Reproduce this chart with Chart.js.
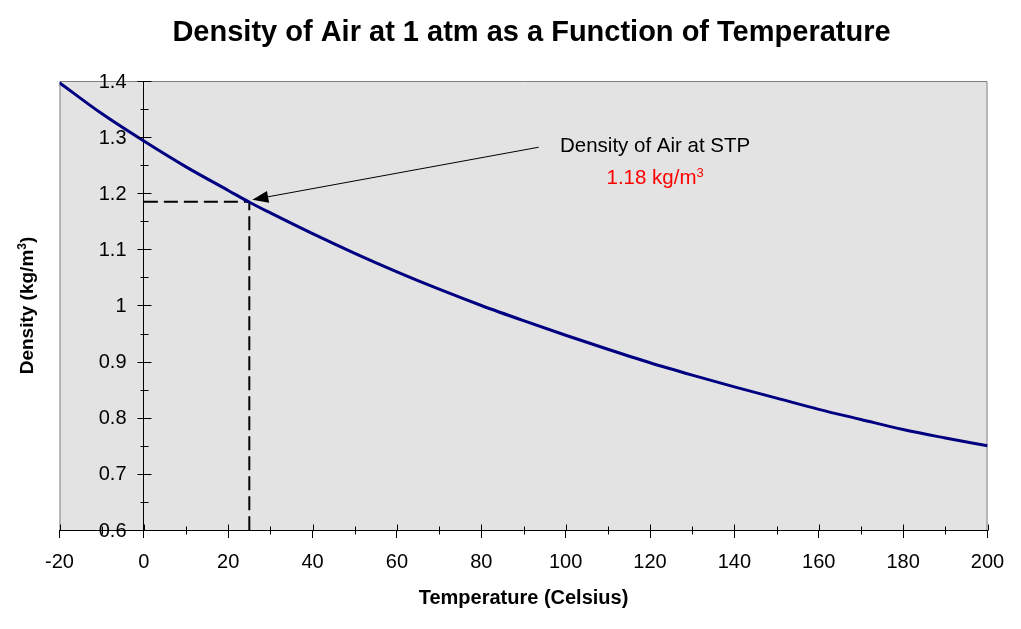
<!DOCTYPE html>
<html>
<head>
<meta charset="utf-8">
<title>Density of Air at 1 atm as a Function of Temperature</title>
<script src="https://cdn.jsdelivr.net/npm/chart.js@4.4.1/dist/chart.umd.min.js"></script>
<style>
  html, body { margin: 0; padding: 0; background: #fff; }
  #wrap { width: 1021px; height: 629px; }
</style>
</head>
<body>
<div id="wrap"><canvas id="chart" width="1021" height="629"></canvas></div>
<script>
// values
const temperatures = [-20, -10, 0, 10, 20, 25, 30, 40, 50, 60, 70, 80, 90, 100,
                      110, 120, 130, 140, 150, 160, 170, 180, 190, 200];
const densities = [1.397, 1.342, 1.293, 1.247, 1.205, 1.184, 1.165, 1.128, 1.093, 1.060,
                   1.029, 1.000, 0.973, 0.947, 0.922, 0.898, 0.876, 0.855, 0.835, 0.815,
                   0.797, 0.779, 0.764, 0.750];

// axis ranges
const xRange = [-20, 200, 20];
const yRange = [0.6, 1.4, 0.1];

// the STP point and its note
const stpTemp = 25;
const stpDensity = 1.185;
const arrowFrom = [93.6, 1.282];
const noteAt = [121.2, 1.273];
const noteLines = ['Density of Air at STP', '1.18 kg/m', '3'];

const chartTitle = 'Density of Air at 1 atm as a Function of Temperature';
const xTitle = 'Temperature (Celsius)';
const yTitle = ['Density (kg/m', '3', ')'];

const FONT = '"Liberation Sans", Arial, Helvetica, sans-serif';
const plotGrey = '#e3e3e3';

const yLabel = v => String(Math.round(v * 10) / 10);

// text with a small raised part, centred on cx
function textWithSup(ctx, parts, cx, y, size, supSize, bold) {
  const w = bold ? 'bold ' : '';
  ctx.font = w + size + 'px ' + FONT;
  const w1 = ctx.measureText(parts[0]).width;
  const w3 = parts[2] ? ctx.measureText(parts[2]).width : 0;
  ctx.font = w + supSize + 'px ' + FONT;
  const w2 = ctx.measureText(parts[1]).width;
  let x = cx - (w1 + w2 + w3) / 2;
  ctx.textAlign = 'left';
  ctx.textBaseline = 'alphabetic';
  ctx.font = w + size + 'px ' + FONT;
  ctx.fillText(parts[0], x, y);
  x += w1;
  ctx.font = w + supSize + 'px ' + FONT;
  ctx.fillText(parts[1], x, y - size * 0.36);
  x += w2;
  if (parts[2]) {
    ctx.font = w + size + 'px ' + FONT;
    ctx.fillText(parts[2], x, y);
  }
}

const excelLook = {
  id: 'excelLook',
  beforeDraw(chart) {
    const {ctx, chartArea: a} = chart;
    ctx.save();
    ctx.fillStyle = plotGrey;
    ctx.fillRect(a.left, a.top, a.right - a.left, a.bottom - a.top);
    ctx.strokeStyle = '#808080';
    ctx.lineWidth = 1;
    ctx.beginPath();
    ctx.moveTo(a.left + 0.5, a.bottom);
    ctx.lineTo(a.left + 0.5, a.top + 0.5);
    ctx.lineTo(a.right - 0.5, a.top + 0.5);
    ctx.lineTo(a.right - 0.5, a.bottom);
    ctx.stroke();
    ctx.restore();
  },
  afterDraw(chart) {
    const {ctx, chartArea: a} = chart;
    const xs = chart.scales.x;
    const ys = chart.scales.y;
    const x0 = Math.round(xs.getPixelForValue(0)) + 0.5;
    const yb = Math.round(ys.getPixelForValue(yRange[0])) + 0.5;

    ctx.save();
    ctx.strokeStyle = '#000';
    ctx.lineWidth = 1;
    ctx.beginPath();
    // y axis: major and minor ticks crossing the axis
    ys.ticks.forEach((t, i) => {
      const py = Math.round(ys.getPixelForValue(t.value)) + 0.5;
      ctx.moveTo(x0 - 7, py); ctx.lineTo(x0 + 7, py);
      if (i < ys.ticks.length - 1) {
        const pm = Math.round(ys.getPixelForValue((t.value + ys.ticks[i + 1].value) / 2)) + 0.5;
        ctx.moveTo(x0 - 4, pm); ctx.lineTo(x0 + 4, pm);
      }
    });
    // x axis: inner part of majors and the minors
    xs.ticks.forEach((t, i) => {
      const px = Math.round(xs.getPixelForValue(t.value)) + 0.5;
      ctx.moveTo(px, yb - 6); ctx.lineTo(px, yb);
      if (i < xs.ticks.length - 1) {
        const pm = Math.round(xs.getPixelForValue((t.value + xs.ticks[i + 1].value) / 2)) + 0.5;
        ctx.moveTo(pm, yb - 4); ctx.lineTo(pm, yb + 4);
      }
    });
    ctx.stroke();

    // y tick labels, left of the axis that sits at x = 0
    ctx.fillStyle = '#000';
    ctx.font = '20px ' + FONT;
    ctx.textAlign = 'right';
    ctx.textBaseline = 'middle';
    ys.ticks.forEach(t => {
      ctx.fillText(yLabel(t.value), x0 - 18, ys.getPixelForValue(t.value) + 1);
    });

    // arrow to the STP point
    const tipX = xs.getPixelForValue(stpTemp) + 3;
    const tipY = ys.getPixelForValue(stpDensity) - 2;
    const fx = xs.getPixelForValue(arrowFrom[0]);
    const fy = ys.getPixelForValue(arrowFrom[1]);
    const ang = Math.atan2(fy - tipY, fx - tipX);
    const c = Math.cos(ang), s = Math.sin(ang);
    const bx = tipX + c * 16, by = tipY + s * 16;
    ctx.beginPath();
    ctx.moveTo(fx, fy);
    ctx.lineTo(bx, by);
    ctx.stroke();
    ctx.beginPath();
    ctx.moveTo(tipX, tipY);
    ctx.lineTo(bx - s * 6, by + c * 6);
    ctx.lineTo(bx + s * 6, by - c * 6);
    ctx.closePath();
    ctx.fill();

    // note
    const nx = xs.getPixelForValue(noteAt[0]);
    const ny = ys.getPixelForValue(noteAt[1]);
    ctx.font = '20.5px ' + FONT;
    ctx.textAlign = 'center';
    ctx.textBaseline = 'alphabetic';
    ctx.fillText(noteLines[0], nx, ny);
    ctx.fillStyle = '#ff0000';
    textWithSup(ctx, [noteLines[1], noteLines[2]], nx, ny + 32, 20.5, 13, false);

    // chart title
    ctx.fillStyle = '#000';
    ctx.font = 'bold 29px ' + FONT;
    ctx.textAlign = 'center';
    ctx.fillText(chartTitle, 531.5, 41);

    // y axis title, rotated
    ctx.translate(33, (a.top + a.bottom) / 2);
    ctx.rotate(-Math.PI / 2);
    textWithSup(ctx, yTitle, 0, 0, 19, 12, true);
    ctx.restore();
  }
};

new Chart(document.getElementById('chart'), {
  type: 'scatter',
  data: {
    datasets: [{
      data: temperatures.map((t, i) => ({x: t, y: densities[i]})),
      showLine: true,
      borderColor: '#000080',
      borderWidth: 3,
      pointRadius: 0,
      cubicInterpolationMode: 'monotone',
      order: 0
    }, {
      data: [{x: 0, y: stpDensity}, {x: stpTemp, y: stpDensity}, {x: stpTemp, y: yRange[0]}],
      showLine: true,
      borderColor: '#000',
      borderWidth: 2,
      borderDash: [14, 6],
      pointRadius: 0,
      order: 1
    }]
  },
  options: {
    responsive: false,
    animation: false,
    devicePixelRatio: 1,
    layout: { padding: { left: 59.5, right: 33.5, top: 81, bottom: 19 } },
    plugins: {
      legend: { display: false },
      tooltip: { enabled: false },
      title: { display: false }
    },
    events: [],
    scales: {
      x: {
        type: 'linear',
        position: 'bottom',
        min: xRange[0],
        max: xRange[1],
        ticks: {
          stepSize: xRange[2],
          color: '#000',
          padding: 12,
          maxRotation: 0,
          font: { family: FONT, size: 20 }
        },
        grid: { drawOnChartArea: false, color: '#000', tickLength: 8 },
        border: { color: '#000', width: 1 },
        title: {
          display: true,
          text: xTitle,
          color: '#000',
          padding: 0,
          font: { family: FONT, size: 20, weight: 'bold' }
        }
      },
      y: {
        type: 'linear',
        position: { x: 0 },
        min: yRange[0],
        max: yRange[1],
        ticks: {
          stepSize: yRange[2],
          display: false
        },
        grid: { display: false },
        border: { color: '#000', width: 1 }
      }
    }
  },
  plugins: [excelLook]
});
</script>
</body>
</html>
